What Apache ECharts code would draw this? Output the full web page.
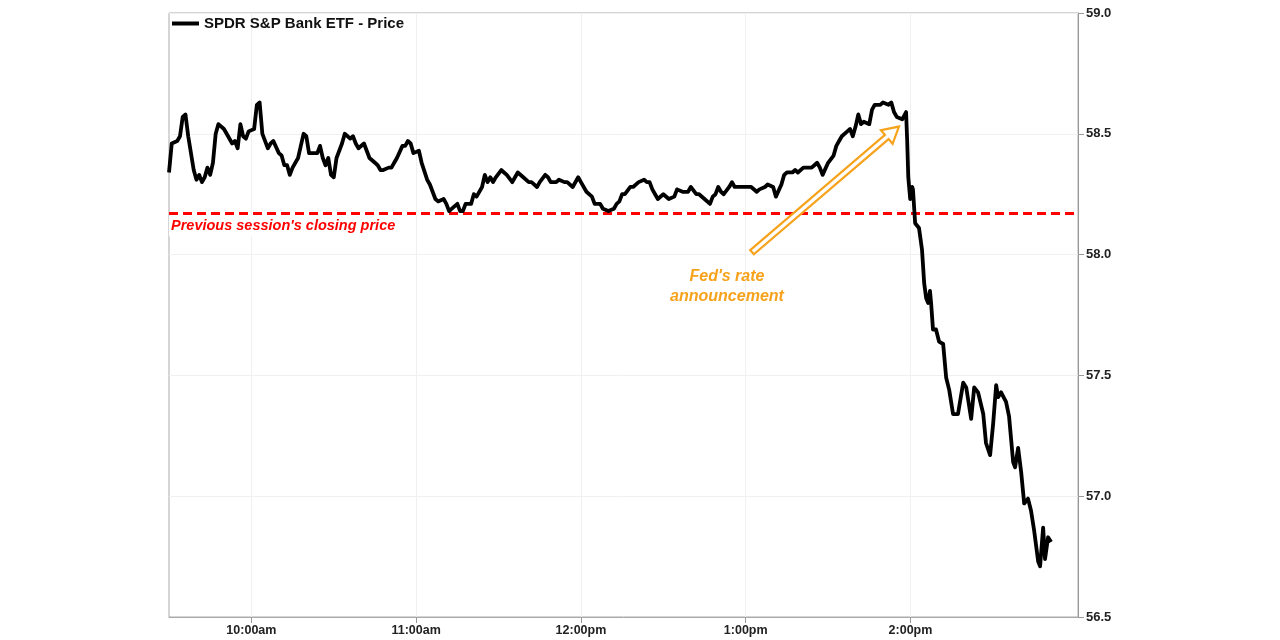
<!DOCTYPE html>
<html>
<head>
<meta charset="utf-8">
<script src="https://cdn.jsdelivr.net/npm/echarts@6/dist/echarts.min.js"></script>
<style>
  html, body { margin: 0; padding: 0; background: #fff; }
  #chart { width: 1280px; height: 640px; }
</style>
</head>
<body>
<div id="chart"></div>
<script>
// minutes after the 9:30am open
const minutesFromOpen = [
  0, 1, 3, 4, 5, 6, 7, 9, 10, 11, 12, 13, 14, 15, 16, 17, 18, 20, 21, 23, 24, 25, 26, 27, 28, 29,
  31, 32, 33, 34, 36, 37, 38, 40, 41, 42, 43, 44, 45, 47, 48, 49, 50, 51, 52, 54, 55, 56, 57, 58, 59,
  60, 61, 63, 64, 66, 67, 68, 69, 71, 72, 73, 75, 76, 77, 78, 80, 81, 82, 83, 85, 86, 87, 88, 89,
  91, 92, 94, 95, 97, 98, 100, 101, 102, 103, 105, 106, 107, 108, 110, 111, 112, 114, 115, 116, 117, 118, 119,
  121, 122, 123, 125, 126, 127, 129, 131, 132, 134, 135, 137, 138, 139, 141, 142, 144, 145, 147, 149,
  150, 152, 154, 155, 157, 158, 160, 162, 163, 164, 165, 166, 168, 169, 171, 173, 174, 175, 176, 177,
  178, 180, 182, 184, 185, 187, 189, 190, 192, 193, 195, 197, 198, 199, 200, 201, 202, 204, 205, 206, 208, 209,
  211, 212, 214, 215, 217, 218, 220, 221, 223, 224, 225, 227, 228, 229, 231, 232, 234, 235, 236, 237, 238,
  240, 242, 243, 244, 245, 247, 248, 249, 250, 251, 252, 253, 255, 256, 257, 259, 260, 262, 263, 264, 265, 267,
  268.4, 268.8, 269.2, 269.9, 270.6, 270.9, 271.7, 273.1, 274.2, 275.0, 275.7, 276.4, 277.1, 277.5, 278.2, 279.3,
  280.4, 281.9, 283.0, 284.1, 285.5, 287.3, 289.2, 290.3, 292.1, 293.2, 294.6, 296.5, 297.5, 299.0,
  300.1, 301.2, 301.9, 303.0, 304.8, 305.9, 307.4, 308.1, 309.2, 310.3, 311.4, 312.8, 313.9, 315.0,
  316.5, 317.2, 318.3, 319.0, 320.1, 321.2
];
const prices = [
  58.34, 58.46, 58.47, 58.49, 58.57, 58.58, 58.49, 58.35, 58.31, 58.33, 58.30, 58.32, 58.36, 58.33, 58.38, 58.50, 58.54, 58.52, 58.50, 58.46, 58.47, 58.44, 58.54, 58.49, 58.48, 58.51,
  58.52, 58.62, 58.63, 58.50, 58.44, 58.46, 58.47, 58.42, 58.41, 58.37, 58.37, 58.33, 58.36, 58.40, 58.45, 58.50, 58.49, 58.42, 58.42, 58.42, 58.45, 58.40, 58.37, 58.40, 58.33,
  58.32, 58.40, 58.46, 58.50, 58.48, 58.49, 58.46, 58.44, 58.46, 58.43, 58.40, 58.38, 58.37, 58.35, 58.35, 58.36, 58.36, 58.38, 58.40, 58.45, 58.45, 58.47, 58.46, 58.42,
  58.43, 58.38, 58.31, 58.29, 58.23, 58.22, 58.23, 58.21, 58.18, 58.19, 58.21, 58.18, 58.18, 58.21, 58.21, 58.25, 58.24, 58.28, 58.33, 58.30, 58.32, 58.30, 58.32,
  58.35, 58.34, 58.33, 58.30, 58.32, 58.34, 58.32, 58.30, 58.30, 58.28, 58.30, 58.33, 58.32, 58.30, 58.30, 58.31, 58.30, 58.30, 58.28, 58.32,
  58.30, 58.26, 58.24, 58.21, 58.21, 58.19, 58.18, 58.19, 58.21, 58.22, 58.25, 58.25, 58.28, 58.28, 58.30, 58.31, 58.30, 58.30, 58.27, 58.25,
  58.23, 58.25, 58.23, 58.24, 58.27, 58.26, 58.26, 58.28, 58.25, 58.25, 58.23, 58.21, 58.24, 58.25, 58.28, 58.26, 58.25, 58.28, 58.30, 58.28, 58.28, 58.28,
  58.28, 58.28, 58.26, 58.27, 58.28, 58.29, 58.28, 58.24, 58.29, 58.33, 58.34, 58.34, 58.35, 58.34, 58.36, 58.36, 58.36, 58.37, 58.38, 58.36, 58.33,
  58.38, 58.41, 58.45, 58.47, 58.49, 58.51, 58.52, 58.49, 58.53, 58.58, 58.54, 58.55, 58.54, 58.60, 58.62, 58.62, 58.63, 58.62, 58.63, 58.59, 58.57, 58.56,
  58.59, 58.47, 58.32, 58.23, 58.28, 58.27, 58.13, 58.11, 58.02, 57.88, 57.82, 57.80, 57.85, 57.80, 57.69, 57.69,
  57.64, 57.63, 57.49, 57.44, 57.34, 57.34, 57.47, 57.45, 57.32, 57.45, 57.43, 57.34, 57.22, 57.17,
  57.30, 57.46, 57.41, 57.43, 57.39, 57.33, 57.14, 57.12, 57.20, 57.10, 56.97, 56.99, 56.94, 56.86,
  56.73, 56.71, 56.87, 56.74, 56.83, 56.81
];
const prevClose = 58.17;
const tickMinutes = [30, 90, 150, 210, 270];
const tickLabels = ['10:00am', '11:00am', '12:00pm', '1:00pm', '2:00pm'];
// arrow: from [minute, price] to [minute, price]
const fedArrow = [[212.3, 58.01, 265.8, 58.53]];

const seriesName = 'SPDR S&P Bank ETF - Price';
const FONT = '"Liberation Sans", Arial, sans-serif';
const ORANGE = '#f7a21b';

const chart = echarts.init(document.getElementById('chart'));

const option = {
  animation: false,
  textStyle: { fontFamily: FONT },
  grid: {
    left: 169, right: 202, top: 13, bottom: 23,
    show: true, borderColor: '#aaa', borderWidth: 1
  },
  legend: {
    data: [seriesName],
    left: 172, top: 16, padding: 0,
    icon: 'rect', itemWidth: 27, itemHeight: 4, itemGap: 6,
    textStyle: { fontFamily: FONT, fontSize: 15, fontWeight: 'bold', color: '#111' }
  },
  xAxis: {
    type: 'value', min: 0, max: 331,
    axisLine: { show: true, onZero: false, lineStyle: { color: '#aaa' } },
    axisTick: { show: true, customValues: tickMinutes, length: 6, lineStyle: { color: '#999' } },
    axisLabel: {
      customValues: tickMinutes,
      formatter: v => tickLabels[tickMinutes.indexOf(v)] || '',
      fontFamily: FONT, fontSize: 12.5, fontWeight: 'bold', color: '#222', margin: 7
    },
    splitLine: { show: true, lineStyle: { color: '#f0f0f0' } }
  },
  yAxis: {
    type: 'value', position: 'right', min: 56.5, max: 59, interval: 0.5,
    axisLine: { show: true, onZero: false, lineStyle: { color: '#999' } },
    axisTick: { show: true, inside: false, length: 6, lineStyle: { color: '#999' } },
    axisLabel: {
      formatter: v => v.toFixed(1),
      fontFamily: FONT, fontSize: 13, fontWeight: 'bold', color: '#222', margin: 8
    },
    splitLine: { show: true, lineStyle: { color: '#f0f0f0' } }
  },
  graphic: [{
    type: 'text', x: 727, y: 267, z: 10,
    style: {
      text: "Fed's rate\nannouncement", align: 'center', verticalAlign: 'top',
      font: 'italic bold 16px ' + FONT, fill: ORANGE, lineHeight: 20
    }
  }],
  series: [
    {
      name: seriesName,
      type: 'line',
      data: minutesFromOpen.map((m, i) => [m, prices[i]]),
      showSymbol: false,
      symbol: 'none',
      z: 3,
      itemStyle: { color: '#000' },
      lineStyle: { color: '#000', width: 3.8, join: 'round' },
      markLine: {
        z: 1,
        silent: true,
        symbol: ['none', 'none'],
        lineStyle: { color: '#ff0000', width: 3, type: [9, 5] },
        label: {
          show: true,
          position: 'insideStartBottom',
          formatter: "Previous session's closing price",
          fontFamily: FONT, fontSize: 14.5, fontStyle: 'italic', fontWeight: 'bold',
          color: '#ff0000', backgroundColor: '#fff', padding: [3, 2, 3, 2], distance: [0, 2]
        },
        data: [{ yAxis: prevClose }]
      }
    },
    {
      type: 'custom',
      z: 4,
      silent: true,
      encode: { x: [0, 2], y: [1, 3] },
      data: fedArrow,
      renderItem: (params, api) => {
        const p0 = api.coord([api.value(0), api.value(1)]);
        const p1 = api.coord([api.value(2), api.value(3)]);
        const dx = p1[0] - p0[0], dy = p1[1] - p0[1];
        const L = Math.sqrt(dx * dx + dy * dy);
        const ux = dx / L, uy = dy / L, nx = -uy, ny = ux;
        const h = 2.8, H = 9, hl = 16;
        const pt = (s, q) => [p0[0] + ux * s + nx * q, p0[1] + uy * s + ny * q];
        return {
          type: 'polygon',
          shape: { points: [pt(0, -h), pt(L - hl, -h), pt(L - hl, -H), pt(L, 0), pt(L - hl, H), pt(L - hl, h), pt(0, h)] },
          style: { fill: '#fff', stroke: ORANGE, lineWidth: 2.2, lineJoin: 'miter' }
        };
      }
    }
  ]
};

chart.setOption(option);
</script>
</body>
</html>
